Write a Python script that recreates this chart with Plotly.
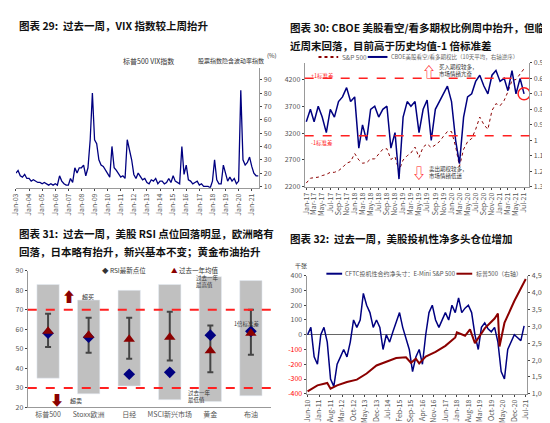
import pandas as pd
import plotly.graph_objects as go

W, H = 550, 423
FONT = "Noto Sans CJK SC"

# ---- panel 29: VIX, bimonthly readings
vix = [20, 22, 18, 17, 19, 16, 16, 14, 15, 14, 13, 13, 12, 13, 12, 11, 12, 11,
       12, 11, 18, 14, 12, 11, 11, 16, 13, 24, 20, 24, 24, 26, 18, 24, 45, 80,
       45, 42, 30, 26, 25, 22, 20, 17, 40, 24, 22, 19, 17, 18, 16, 45, 38, 30,
       19, 16, 20, 17, 15, 16, 13, 12, 15, 14, 16, 12, 14, 14, 12, 13, 16, 13,
       18, 14, 13, 12, 40, 19, 26, 15, 14, 12, 13, 14, 11, 12, 10, 10, 10, 9,
       14, 30, 15, 12, 12, 26, 20, 14, 17, 14, 16, 12, 14, 82, 30, 26, 28, 32,
       25, 20, 18, 18]
vix_dates = pd.date_range("2003-01-01", periods=len(vix), freq="2MS")

# ---- panel 30: S&P 500 and CBOE put/call ratio, monthly
spx30 = [2270, 2360, 2370, 2380, 2410, 2430, 2470, 2470, 2500, 2560, 2640, 2670,
         2820, 2700, 2640, 2650, 2720, 2720, 2810, 2900, 2910, 2710, 2760, 2500,
         2700, 2780, 2830, 2940, 2750, 2940, 3000, 2930, 2980, 3040, 3140, 3230,
         3230, 2950, 2580, 2900, 3040, 3100, 3270, 3500, 3360, 3270, 3620, 3750,
         3710, 3810, 3970, 4180, 4200, 4300, 4400]
pcr = [0.88, 0.80, 0.88, 0.78, 0.85, 0.95, 0.80, 0.85, 0.75, 0.72, 0.66, 0.75,
       0.72, 1.05, 0.90, 1.00, 0.80, 0.78, 0.85, 0.80, 0.78, 1.05, 0.95, 1.25,
       0.85, 0.75, 0.78, 0.75, 0.95, 0.80, 0.74, 1.00, 0.80, 0.75, 0.70, 0.65,
       0.75, 1.00, 1.15, 0.85, 0.72, 0.70, 0.62, 0.58, 0.65, 0.70, 0.58, 0.55,
       0.62, 0.60, 0.68, 0.55, 0.70, 0.60, 0.70]
dates30 = pd.date_range("2017-01-01", periods=len(spx30), freq="MS")
std_hi, std_lo = 0.6, 0.97

# ---- panel 31: RSI
cats = ["标普500", "Stoxx欧洲", "日经", "MSCI新兴市场", "黄金", "布油"]
yr_low = [35, 27, 31, 24, 23, 26]
yr_high = [83, 75, 80, 83, 87, 85]
sd_low = [51, 48, 45, 44, 38, 47]
sd_high = [68, 66, 66, 69, 62, 70]
rsi_now = [58, 56, 37, 38, 57, 59]
rsi_avg = [59, 57, 55, 56, 49, 58]

# ---- panel 32: CFTC net position (thousand contracts), bimonthly
cftc = [0, 50, -150, -200,
        0, 50, -50, -300, -350, -200,
        -150, -100, -150, -50, 100, 50,
        100, 280, 200, 150, 50, 100,
        50, -100, 0, -50, 20, 80,
        150, 50, -20, -100, -250, -150,
        -100, -200, 0, 150, 200, 100,
        50, 100, 150, 100, 200, 150,
        250, 150, 180, 200, 150, 0,
        -100, 50, 80, 40, 20, 50,
        -50, -250, -300, -100, -50, 0,
        -20, -40, 60]
cftc_dates = pd.date_range("2010-06-01", periods=len(cftc), freq="2MS")
spx32_dates = ["2010-06", "2010-12", "2011-06", "2011-08", "2011-12", "2012-06", "2012-12",
               "2013-06", "2013-12", "2014-06", "2014-12", "2015-06", "2015-09", "2015-12",
               "2016-02", "2016-06", "2016-12", "2017-06", "2017-12", "2018-01", "2018-06",
               "2018-09", "2018-12", "2019-06", "2019-12", "2020-02", "2020-03", "2020-06",
               "2020-12", "2021-07"]
spx32 = [1070, 1250, 1320, 1150, 1250, 1350, 1420, 1600, 1840, 1950, 2060, 2080, 1920,
         2040, 1900, 2100, 2240, 2420, 2670, 2820, 2720, 2910, 2500, 2940, 3230, 3380,
         2400, 3100, 3750, 4400]


def px(x0, x1):
    return [x0 / W, x1 / W]


def py(top, bottom):
    return [1 - bottom / H, 1 - top / H]


NAVY = "#000080"
DRED = "#8B0000"
RED = "#FF2020"
tick = dict(size=7, color="#555555", family=FONT)

fig = go.Figure()
fig.add_trace(go.Scatter(x=vix_dates, y=vix, mode="lines", line=dict(color=NAVY, width=1.3),
                         xaxis="x", yaxis="y"))
fig.add_trace(go.Scatter(x=dates30, y=spx30, mode="lines", line=dict(color=DRED, width=1, dash="dot"),
                         xaxis="x2", yaxis="y2"))
fig.add_trace(go.Scatter(x=dates30, y=pcr, mode="lines", line=dict(color=NAVY, width=1.5),
                         xaxis="x2", yaxis="y3"))
fig.add_trace(go.Scatter(x=[dates30[-1]], y=[pcr[-1]], mode="markers",
                         marker=dict(size=12, color="rgba(0,0,0,0)", line=dict(color=RED, width=1.5)),
                         xaxis="x2", yaxis="y3"))
fig.add_trace(go.Bar(x=cats, y=[h - l for h, l in zip(yr_high, yr_low)], base=yr_low,
                     marker_color="#C0C0C0", width=0.55, xaxis="x3", yaxis="y4"))
mid = [(h + l) / 2 for h, l in zip(sd_high, sd_low)]
half = [(h - l) / 2 for h, l in zip(sd_high, sd_low)]
fig.add_trace(go.Scatter(x=cats, y=mid, mode="markers", marker=dict(size=1, color="#444"),
                         error_y=dict(type="data", array=half, color="#444", thickness=2, width=3),
                         xaxis="x3", yaxis="y4"))
fig.add_trace(go.Scatter(x=cats, y=rsi_now, mode="markers", marker=dict(symbol="diamond", size=9, color=NAVY),
                         xaxis="x3", yaxis="y4"))
fig.add_trace(go.Scatter(x=cats, y=rsi_avg, mode="markers", marker=dict(symbol="triangle-up", size=10, color=DRED),
                         xaxis="x3", yaxis="y4"))
fig.add_trace(go.Scatter(x=cftc_dates, y=cftc, mode="lines", line=dict(color=NAVY, width=1.5),
                         xaxis="x4", yaxis="y5"))
fig.add_trace(go.Scatter(x=spx32_dates, y=spx32, mode="lines", line=dict(color=DRED, width=2),
                         xaxis="x4", yaxis="y6"))

dax = dict(tickfont=tick, tickangle=-90, showgrid=False, ticks="outside", ticklen=2,
           showline=True, linecolor="#999", tickformat="%b-%y")
yax = dict(tickfont=tick, showgrid=False, ticks="outside", ticklen=2, showline=True, linecolor="#999")

fig.update_layout(
    width=W, height=H, margin=dict(l=0, r=0, t=0, b=0), showlegend=False,
    paper_bgcolor="white", plot_bgcolor="white", font=dict(family=FONT),
    xaxis=dict(dax, domain=px(3, 250), dtick="M12", tick0="2003-01-01",
               range=["2003-01-01", "2021-08-01"], anchor="y"),
    yaxis=dict(yax, domain=py(55, 178), side="right", range=[9, 99], dtick=10, anchor="x"),
    xaxis2=dict(dax, domain=px(296, 524), dtick="M2", tick0="2017-01-01",
                range=["2016-12-20", "2021-08-10"], anchor="y2"),
    yaxis2=dict(yax, domain=py(50, 177), range=[2200, 4510], tickvals=[2200, 2700, 3200, 3700, 4200], anchor="x2"),
    yaxis3=dict(yax, overlaying="y2", side="right", range=[1.3, 0.5], dtick=0.1, anchor="x2"),
    xaxis3=dict(domain=px(15, 262), tickfont=tick, showline=True, linecolor="#999", anchor="y4"),
    yaxis4=dict(yax, domain=py(263, 403), range=[20, 90], dtick=10, anchor="x3"),
    xaxis4=dict(dax, domain=px(298, 522), anchor="y5",
                tickvals=pd.date_range("2010-06-01", "2021-07-01", freq="7MS"),
                range=["2010-05-15", "2021-08-01"]),
    yaxis5=dict(yax, domain=py(268, 389), range=[-400, 400], tickvals=list(range(-400, 401, 100)),
                ticktext=[f"<span style='color:red'>{v}</span>" if v < 0 else str(v) for v in range(-400, 401, 100)],
                zeroline=True, zerolinecolor="#666", zerolinewidth=1, anchor="x4"),
    yaxis6=dict(yax, overlaying="y5", side="right", range=[1000, 4500], dtick=500, tickformat=",", anchor="x4"),
)

shapes = []
for v in (std_hi, std_lo):
    shapes.append(dict(type="line", xref="x2 domain", yref="y3", x0=0, x1=1, y0=v, y1=v,
                       line=dict(color=RED, width=1.5, dash="dash")))
for v in (70, 30):
    shapes.append(dict(type="line", xref="x3 domain", yref="y4", x0=0, x1=1, y0=v, y1=v,
                       line=dict(color=RED, width=2, dash="dash")))
# legend swatches
for x0, x1, yy, col, dash in [(310, 330, 44, DRED, "dot"), (360, 380, 44, NAVY, "solid"),
                              (318, 334, 266, NAVY, "solid"), (450, 466, 266, DRED, "solid")]:
    shapes.append(dict(type="line", xref="paper", yref="paper", x0=x0 / W, x1=x1 / W,
                       y0=1 - yy / H, y1=1 - yy / H, line=dict(color=col, width=2, dash=dash)))
fig.update_layout(shapes=shapes)


def note(x, y, text, size=6.5, color="#333", bold=False, xanchor="left"):
    if bold:
        text = f"<b>{text}</b>"
    fig.add_annotation(x=x / W, y=1 - y / H, xref="paper", yref="paper", text=text, showarrow=False,
                       xanchor=xanchor, yanchor="middle", align="left",
                       font=dict(size=size, color=color, family=FONT))


note(4, 12, "图表 29:  过去一周，VIX 指数较上周抬升", 10.5, "#111", True)
note(279, 14, "图表 30: CBOE 美股看空/看多期权比例周中抬升，但临", 10.5, "#111", True)
note(279, 32, "近周末回落，目前高于历史均值-1 倍标准差", 10.5, "#111", True)
note(4, 225, "图表 31:  过去一周，美股 RSI 点位回落明显，欧洲略有", 10.5, "#111", True)
note(4, 243, "回落，日本略有抬升，新兴基本不变；黄金布油抬升", 10.5, "#111", True)
note(279, 230, "图表 32:  过去一周，美股投机性净多头仓位增加", 10.5, "#111", True)

note(110, 48, "标普500 VIX指数", 7)
note(186, 48, "股票指数隐含波动率指数", 6)
note(256, 43, "(%)", 6)
note(332, 44, "S&P 500", 6.5, "#666")
note(382, 44, "CBOE美股看空/看多期权比（10天平均，右轴逆序）", 5.5, "#666")
note(300, 63, "+1标准差", 5.5, RED)
note(300, 132, "-1标准差", 5.5, RED)
note(430, 58, "买入期权较多，<br>市场情绪亢奋", 5.5)
note(420, 162, "卖出期权较多，<br>市场情绪低迷", 5.5)
note(422, 58, "⇧", 14, RED, xanchor="center")
note(412, 162, "⇩", 14, RED, xanchor="center")

note(88, 262, "◆ RSI最新点位", 6.5, "#333")
note(158, 262, "<span style='color:#8B0000'>▲</span> 过去一年均值", 6.5)
note(184, 274, "过去一年<br>最高值", 5.5)
note(176, 392, "过去一年<br>最低值", 5.5)
note(222, 318, "1倍标准差", 5.5)
note(68, 289, "超买", 6)
note(57, 289, "<span style='color:#8B0000'>⬆</span>", 14, xanchor="center")
note(45, 394, "<span style='color:#8B0000'>⬇</span>", 14, xanchor="center")
note(56, 396, "超卖", 6)

note(284, 258, "千张", 6)
note(335, 266, "CFTC投机性合约净头寸：E-Mini S&P 500", 6, "#555")
note(468, 266, "标普500（右轴）", 6, "#555")

fig.write_html("out.html")
